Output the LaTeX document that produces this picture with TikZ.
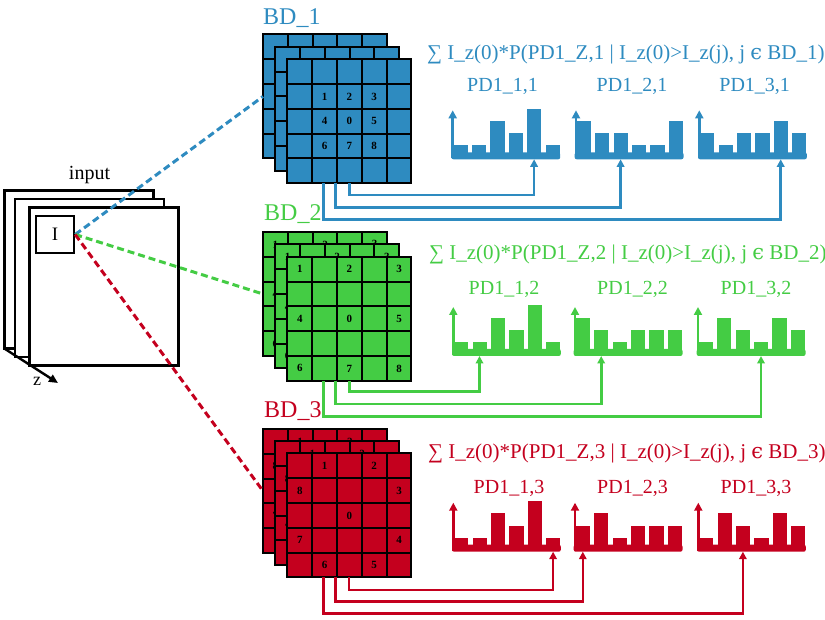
\documentclass[tikz,border=0pt]{standalone}
\usepackage{fontspec}
\setmainfont{Liberation Serif}
\newfontfamily\epsfont{DejaVu Serif}
\usetikzlibrary{arrows.meta,calc}
\definecolor{cblue}{RGB}{46,139,192}
\definecolor{cgreen}{RGB}{68,204,68}
\definecolor{cred}{RGB}{196,0,30}
\tikzset{
  layer/.style={draw=black, line width=2pt, anchor=north west, minimum width=124pt, minimum height=124pt, inner sep=0pt, outer sep=0pt},
  gline/.style={black, line width=2pt},
  digit/.style={font=\fontsize{11}{13}\selectfont\bfseries, text=black, inner sep=0pt},
  frame/.style={draw=black, fill=white, line width=2.4pt, anchor=north west, inner sep=0pt, outer sep=0pt, minimum width=149pt, minimum height=158pt},
  conn/.style={line width=2.6pt, -{Triangle[length=7.5pt,width=7.5pt]}},
  ray/.style={line width=3pt, dash pattern=on 7pt off 4pt},
  bdlabel/.style={font=\fontsize{24}{28}\selectfont, anchor=base west, inner sep=0pt},
  formula/.style={font=\fontsize{21}{25}\selectfont, anchor=base west, inner sep=0pt},
  pdlabel/.style={font=\fontsize{20}{24}\selectfont, anchor=base, inner sep=0pt},
}
\newcommand{\gridlayer}[5]{%
  \node[layer, fill=#4] (#1) at (#2,#3) {};
  \foreach \k in {1,2,3,4} {
    \draw[gline] ($(#1.north west)+(\k*24.8,0)$) -- ++(0,124);
    \draw[gline] ($(#1.north west)+(0,\k*24.8)$) -- ++(124,0);
  }
  \foreach \c/\r/\d in {#5}
    \node[digit] at ($(#1.north west)+(\c*24.8+12.4,\r*24.8+12.4)$) {\d};
}
\newcommand{\hist}[4]{%
  \fill[#3, rounded corners=2pt] (#1-1.3,#2) rectangle (#1+107.5,#2-7);
  \foreach \h [count=\i from 0] in {#4}
    \fill[#3] (#1+0.8+18.4*\i,#2-5) rectangle (#1+15+18.4*\i,#2-1.5-12.3*\h);
  \draw[#3, line width=2.6pt, -{Triangle[length=8pt,width=8pt]}] (#1,#2-1) -- (#1,#2-49);
}
\begin{document}
\begin{tikzpicture}[x=1pt,y=-1pt]
\useasboundingbox (0,0) rectangle (825,620);
% input stack
\node[frame] (in3) at (4.3,190.5) {};
\node[frame] (in2) at (15,199) {};
\node[frame] (in1) at (29.5,207.5) {};
\node[draw=black, line width=2.4pt, minimum width=38pt, minimum height=37pt, inner sep=0pt, font=\fontsize{19}{22}\selectfont] (ibox) at (55,234.5) {I};
\node[font=\fontsize{20}{24}\selectfont, anchor=base, inner sep=0pt] (inlab) at (89.5,179.3) {input};
\coordinate (zend) at (58,383);
\draw[line width=2.4pt, -{Triangle[length=9pt,width=8pt]}] (in3.south west) -- (zend);
\node[font=\fontsize{18}{22}\selectfont, inner sep=0pt] (zlab) at (37,381) {z};
% grids (back layers first)
\gridlayer{bd1c}{263}{34.5}{cblue}{1/1/1,2/1/2,3/1/3,1/2/4,2/2/0,3/2/5,1/3/6,2/3/7,3/3/8}
\gridlayer{bd2c}{263}{232}{cgreen}{0/0/1,2/0/2,4/0/3,0/2/4,2/2/0,4/2/5,0/4/6,2/4/7,4/4/8}
\gridlayer{bd3c}{263}{429}{cred}{1/0/1,3/0/2,0/1/8,4/1/3,2/2/0,0/3/7,4/3/4,1/4/6,3/4/5}
% rays
\draw[ray, cblue] (ibox.east) -- (bd1c.west);
\draw[ray, cgreen] (ibox.east) -- (bd2c.west);
\draw[ray, cred] (ibox.east) -- (bd3c.west);
\gridlayer{bd1b}{275.2}{46.9}{cblue}{1/1/1,2/1/2,3/1/3,1/2/4,2/2/0,3/2/5,1/3/6,2/3/7,3/3/8}
\gridlayer{bd1a}{287.4}{59.3}{cblue}{1/1/1,2/1/2,3/1/3,1/2/4,2/2/0,3/2/5,1/3/6,2/3/7,3/3/8}
\gridlayer{bd2b}{275.2}{244.4}{cgreen}{0/0/1,2/0/2,4/0/3,0/2/4,2/2/0,4/2/5,0/4/6,2/4/7,4/4/8}
\gridlayer{bd2a}{287.4}{256.8}{cgreen}{0/0/1,2/0/2,4/0/3,0/2/4,2/2/0,4/2/5,0/4/6,2/4/7,4/4/8}
\gridlayer{bd3b}{275.2}{441.2}{cred}{1/0/1,3/0/2,0/1/8,4/1/3,2/2/0,0/3/7,4/3/4,1/4/6,3/4/5}
\gridlayer{bd3a}{287.4}{453.4}{cred}{1/0/1,3/0/2,0/1/8,4/1/3,2/2/0,0/3/7,4/3/4,1/4/6,3/4/5}
% labels
\node[bdlabel, text=cblue] (l1) at (263,25) {BD\_1};
\node[bdlabel, text=cgreen] (l2) at (264,220.7) {BD\_2};
\node[bdlabel, text=cred] (l3) at (264,417.3) {BD\_3};
\node[formula, text=cblue] (f1) at (427,59.3) {∑ I\_z(0)*P(PD1\_Z,1 | I\_z(0)>I\_z(j), j {\epsfont ϵ} BD\_1)};
\node[formula, text=cgreen] (f2) at (429,259.3) {∑ I\_z(0)*P(PD1\_Z,2 | I\_z(0)>I\_z(j), j {\epsfont ϵ} BD\_2)};
\node[formula, text=cred] (f3) at (428,458.3) {∑ I\_z(0)*P(PD1\_Z,3 | I\_z(0)>I\_z(j), j {\epsfont ϵ} BD\_3)};
\node[pdlabel, text=cblue] (p11) at (502.5,91.7) {PD1\_1,1};
\node[pdlabel, text=cblue] (p21) at (632,91.7) {PD1\_2,1};
\node[pdlabel, text=cblue] (p31) at (754.7,91.7) {PD1\_3,1};
\node[pdlabel, text=cgreen] (p12) at (504,294.3) {PD1\_1,2};
\node[pdlabel, text=cgreen] (p22) at (632.5,294.3) {PD1\_2,2};
\node[pdlabel, text=cgreen] (p32) at (756,294.3) {PD1\_3,2};
\node[pdlabel, text=cred] (p13) at (509,493.3) {PD1\_1,3};
\node[pdlabel, text=cred] (p23) at (632.5,493.3) {PD1\_2,3};
\node[pdlabel, text=cred] (p33) at (756,493.3) {PD1\_3,3};
% histograms
\hist{452.7}{159.3}{cblue}{1,1,3,2,4,1}
\hist{576}{159.3}{cblue}{3,2,2,1,1,3}
\hist{699.3}{159.3}{cblue}{2,1,2,2,3,2}
\hist{453.3}{356}{cgreen}{1,1,3,2,4,1}
\hist{575}{356}{cgreen}{3,2,1,2,2,2}
\hist{698}{356}{cgreen}{1,3,2,1,3,2}
\hist{453.3}{551.7}{cred}{1,1,3,2,4,1}
\hist{575}{551.7}{cred}{2,3,1,2,2,2}
\hist{698.3}{551.7}{cred}{1,3,2,1,3,2}
% connector targets
\coordinate (t11) at (534.1,159.3);
\coordinate (t21) at (620.6,159.3);
\coordinate (t31) at (780.7,159.3);
\coordinate (t12) at (479.5,356);
\coordinate (t22) at (601.2,356);
\coordinate (t32) at (761,356);
\coordinate (t13) at (553.1,551.7);
\coordinate (t23) at (582.8,551.7);
\coordinate (t33) at (742.9,551.7);
% connectors
\draw[conn, cblue] ($(bd1a.south)+(0.3,0)$) |- ($(t11)+(0,35.7)$) -- (t11);
\draw[conn, cblue] ($(bd1a.south)+(-13.7,0)$) |- ($(t21)+(0,48.4)$) -- (t21);
\draw[conn, cblue] ($(bd1a.south)+(-25.7,0)$) |- ($(t31)+(0,60)$) -- (t31);
\draw[conn, cgreen] ($(bd2a.south)+(0.3,0)$) |- ($(t12)+(0,35.7)$) -- (t12);
\draw[conn, cgreen] ($(bd2a.south)+(-13.7,0)$) |- ($(t22)+(0,48)$) -- (t22);
\draw[conn, cgreen] ($(bd2a.south)+(-25.7,0)$) |- ($(t32)+(0,60.7)$) -- (t32);
\draw[conn, cred] ($(bd3a.south)+(-0.3,0)$) |- ($(t13)+(0,38.3)$) -- (t13);
\draw[conn, cred] ($(bd3a.south)+(-13.7,0)$) |- ($(t23)+(0,50)$) -- (t23);
\draw[conn, cred] ($(bd3a.south)+(-25.7,0)$) |- ($(t33)+(0,61.6)$) -- (t33);
\end{tikzpicture}
\end{document}
